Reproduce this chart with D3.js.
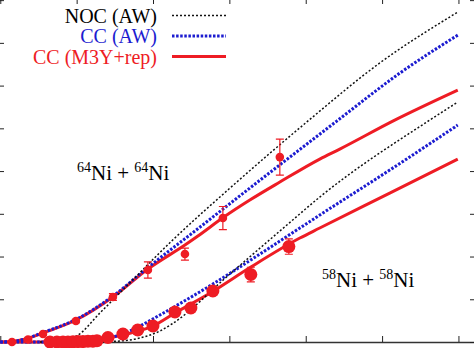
<!DOCTYPE html>
<html>
<head>
<meta charset="utf-8">
<script src="https://cdn.jsdelivr.net/npm/d3@7"></script>
<style>
    body { margin: 0; background: #fff; }
    svg { display: block; }
    text { font-family: "Liberation Serif", "Times New Roman", "DejaVu Serif", serif; }
</style>
</head>
<body>
<svg id="chart"></svg>
<script>
// curves, [x, y] in axis units (one tick = one unit)
const NOC_64 = [[0.52, 0], [0.65, 0.01], [0.85, 0.05], [1.0, 0.14], [1.305, 0.68], [1.606, 1.22],
    [2.26, 2.39], [3.007, 3.6], [4.015, 5.15], [4.97, 6.53], [5.991, 7.72]];
const CC_AW_64 = [[0, 0], [0.153, 0.012], [0.363, 0.094], [0.559, 0.222], [0.99, 0.526], [1.475, 1.076],
    [1.933, 1.743], [2.549, 2.597], [3.268, 3.602], [4.407, 5.17], [5.232, 6.292], [5.991, 7.181]];
const CC_M3Y_64 = [[0, 0], [0.153, 0.012], [0.363, 0.082], [0.559, 0.211], [0.99, 0.515], [1.475, 1.053],
    [1.933, 1.708], [2.418, 2.269], [2.588, 2.48], [2.928, 2.924], [3.268, 3.322], [3.661, 3.743],
    [4.184, 4.281], [4.446, 4.515], [5.166, 5.193], [5.991, 5.895]];

const NOC_58 = [[1.174, 0], [1.567, 0.023], [1.829, 0.094], [2.09, 0.257], [2.247, 0.421], [3.007, 1.591],
    [3.753, 2.737], [4.184, 3.392], [5.624, 5.193], [5.991, 5.614]];
const CC_AW_58 = [[0, 0], [0.52, 0], [1.043, 0.023], [1.41, 0.094], [1.606, 0.187], [1.829, 0.374],
    [2.09, 0.632], [2.784, 1.357], [3.4, 2.058], [3.923, 2.667], [4.184, 2.971], [5.1, 4.023], [5.991, 5.076]];
const CC_M3Y_58 = [[0, 0], [0.52, 0], [1.043, 0.023], [1.41, 0.094], [1.606, 0.164], [1.8, 0.257],
    [1.999, 0.374], [2.287, 0.678], [2.771, 1.17], [3.281, 1.754], [3.923, 2.433], [4.184, 2.667],
    [5.1, 3.485], [5.991, 4.281]];

// measured points, [x, y, error]
const EXP_64 = [[0.153, 0, 0.01], [0.363, 0.058, 0.01], [0.559, 0.187, 0.02], [0.99, 0.491, 0.04],
    [1.475, 1.053, 0.08], [1.933, 1.684, 0.19], [2.418, 2.058, 0.14], [2.915, 2.901, 0.27], [3.661, 4.327, 0.42]];
const EXP_58 = [[0.65, 0, 0], [0.742, 0, 0], [0.821, 0, 0], [0.886, 0, 0], [0.952, 0.005, 0],
    [1.017, 0.01, 0], [1.082, 0.01, 0], [1.148, 0.02, 0], [1.213, 0.02, 0], [1.266, 0.03, 0],
    [1.41, 0.105, 0.02], [1.606, 0.187, 0.02], [1.8, 0.281, 0.03], [1.999, 0.374, 0.03],
    [2.287, 0.702, 0.05], [2.496, 0.795, 0.05], [2.784, 1.193, 0.06], [3.281, 1.579, 0.17], [3.779, 2.234, 0.18]];

const LEGEND = ["NOC (AW)", "CC (AW)", "CC (M3Y+rep)"];
const X_TICKS = [0, 1, 2, 3, 4, 5, 6];
const Y_TICKS = [0, 1, 2, 3, 4, 5, 6, 7, 8];

const WIDTH = 474,
      HEIGHT = 348;
const RED = "#ee1c24",
      BLUE = "#1c1cd0",
      BLACK = "#111";

const x = d3.scaleLinear().domain([-0.03, 6.23]).range([-2, 476]);
const y = d3.scaleLinear().domain([0, 8.05]).range([342, -2]);

const svg = d3.select("#chart")
    .attr("width", WIDTH)
    .attr("height", HEIGHT);

function drawFrame() {
    const axes = [
        [d3.axisBottom(x).tickValues(X_TICKS), "translate(0," + y(0) + ")"],
        [d3.axisTop(x).tickValues(X_TICKS), "translate(0," + y(8.05) + ")"],
        [d3.axisLeft(y).tickValues(Y_TICKS), "translate(" + x(-0.03) + ",0)"],
        [d3.axisRight(y).tickValues(Y_TICKS), "translate(" + x(6.23) + ",0)"]
    ];
    axes.forEach(a => {
        const g = svg.append("g")
            .attr("transform", a[1])
            .call(a[0].tickSize(-6).tickSizeOuter(0).tickFormat(""));
        g.select(".domain").attr("stroke", "#333").attr("stroke-width", 1.3);
        g.selectAll(".tick line").attr("stroke", "#222").attr("stroke-width", 1);
    });
}

const line = d3.line()
    .x(d => x(d[0]))
    .y(d => y(d[1]))
    .curve(d3.curveMonotoneX);

const STYLES = [
    { color: BLACK, width: 1.5, dash: "2,2" },
    { color: BLUE, width: 3, dash: "2.5,1.6" },
    { color: RED, width: 3, dash: null }
];

function drawCurve(data, style) {
    svg.append("path")
        .datum(data)
        .attr("d", line)
        .attr("fill", "none")
        .attr("stroke", style.color)
        .attr("stroke-width", style.width)
        .attr("stroke-dasharray", style.dash);
}

function drawPoints(data, r) {
    const g = svg.append("g");
    data.forEach(d => {
        if (d[2] > 0) {
            const cx = x(d[0]), y1 = y(d[1] + d[2]), y2 = y(d[1] - d[2]);
            g.append("path")
                .attr("d", "M" + cx + "," + y1 + "V" + y2
                    + "M" + (cx - 4) + "," + y1 + "H" + (cx + 4)
                    + "M" + (cx - 4) + "," + y2 + "H" + (cx + 4))
                .attr("fill", "none")
                .attr("stroke", RED)
                .attr("stroke-width", 1.2);
        }
        g.append("circle")
            .attr("cx", x(d[0]))
            .attr("cy", y(d[1]))
            .attr("r", r)
            .attr("fill", RED);
    });
}

function drawLegend() {
    LEGEND.forEach((name, i) => {
        const yy = 15.5 + i * 20.5;
        svg.append("text")
            .attr("x", 157)
            .attr("y", yy + 7)
            .attr("text-anchor", "end")
            .attr("font-size", 20)
            .attr("fill", STYLES[i].color === BLACK ? "#000" : STYLES[i].color)
            .text(name);
        svg.append("line")
            .attr("x1", 172)
            .attr("x2", 226)
            .attr("y1", yy)
            .attr("y2", yy)
            .attr("stroke", STYLES[i].color)
            .attr("stroke-width", STYLES[i].width)
            .attr("stroke-dasharray", STYLES[i].dash);
    });
}

function drawReaction(px, py, mass) {
    const t = svg.append("text")
        .attr("x", px)
        .attr("y", py)
        .attr("font-size", 21)
        .attr("fill", "#000");
    t.append("tspan").attr("font-size", 14).attr("dy", -8).text(mass);
    t.append("tspan").attr("dy", 8).text("Ni + ");
    t.append("tspan").attr("font-size", 14).attr("dy", -8).text(mass);
    t.append("tspan").attr("dy", 8).text("Ni");
}

drawFrame();

// theory curves
drawCurve(CC_M3Y_64, STYLES[2]);
drawCurve(CC_M3Y_58, STYLES[2]);
drawCurve(CC_AW_64, STYLES[1]);
drawCurve(CC_AW_58, STYLES[1]);
drawCurve(NOC_64, STYLES[0]);
drawCurve(NOC_58, STYLES[0]);

// data
drawPoints(EXP_64, 4.3);
drawPoints(EXP_58, 6.5);

drawLegend();
drawReaction(77, 180, "64");
drawReaction(322, 287, "58");
</script>
</body>
</html>
